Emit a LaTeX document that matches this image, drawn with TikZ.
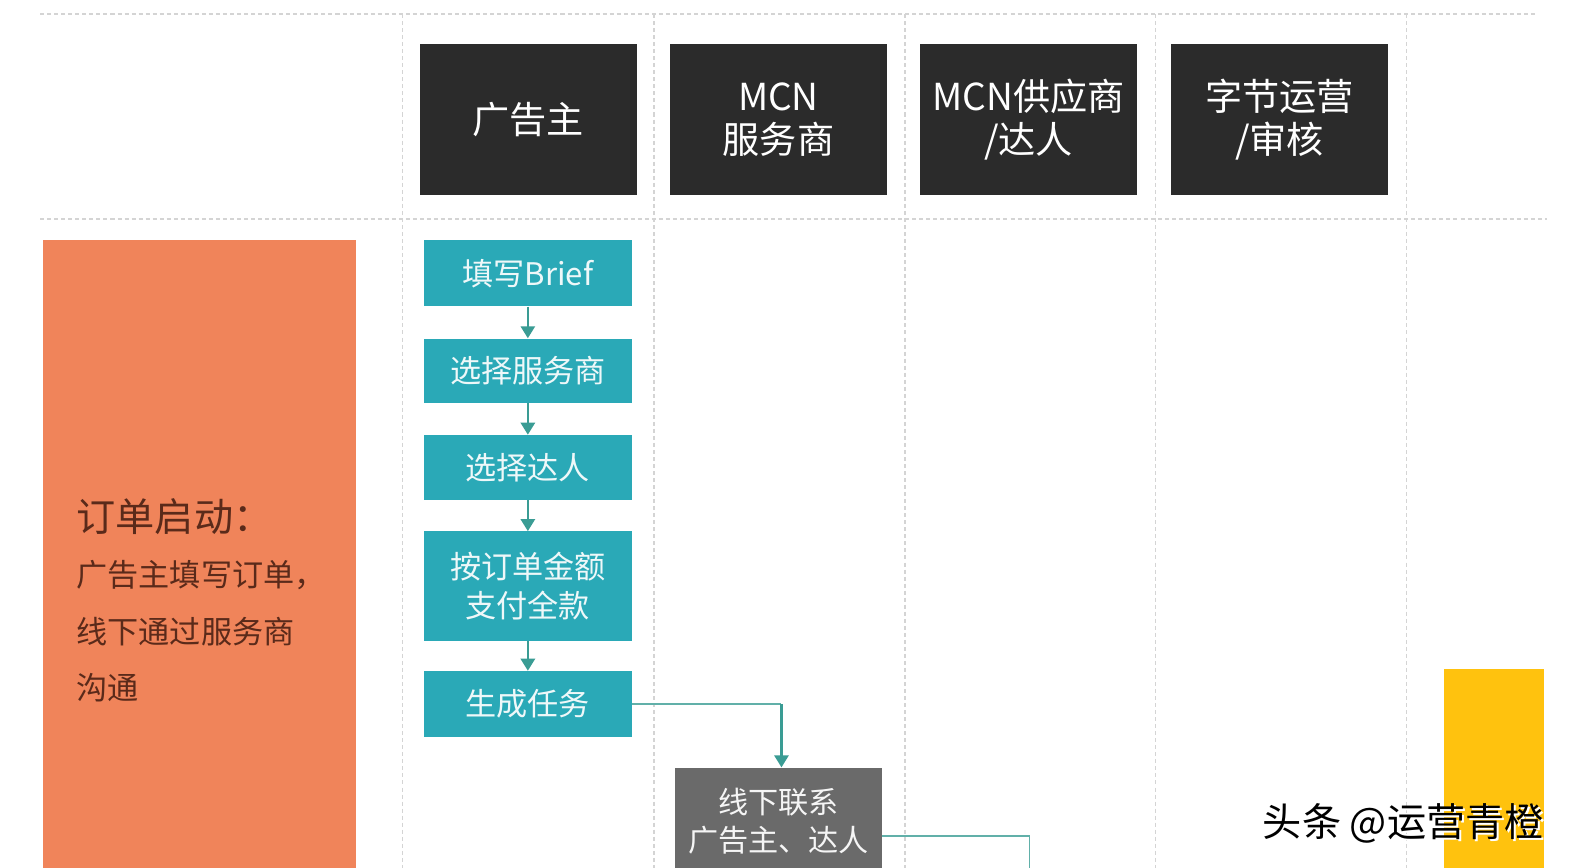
\documentclass[tikz,border=0pt]{standalone}
\usepackage{fontspec}
\setmainfont{Noto Sans CJK SC}
\usetikzlibrary{arrows.meta}
\definecolor{hdr}{HTML}{2B2B2B}
\definecolor{teal}{HTML}{2AA9B7}
\definecolor{tealdk}{HTML}{3A9C94}
\definecolor{orng}{HTML}{F0845A}
\definecolor{orngtxt}{HTML}{5A2A1A}
\definecolor{gryb}{HTML}{6A6A6A}
\definecolor{ylw}{HTML}{FFC20E}
\definecolor{grid}{HTML}{D4D4D4}
\tikzset{
  gridline/.style={grid, line width=1.2pt, dash pattern=on 4pt off 3pt},
  hdrbox/.style={fill=hdr, draw=none, minimum width=216pt, minimum height=150pt, text=white, font=\fontsize{37}{43}\selectfont, align=center, inner sep=0pt},
  stepbox/.style={fill=teal, draw=none, minimum width=207pt, text=white!92!teal, font=\fontsize{31}{38}\selectfont, align=center, inner sep=0pt},
  phaseline/.style={anchor=west, text=orngtxt, inner sep=0pt, font=\fontsize{31}{36}\selectfont},
  flow/.style={tealdk, line width=2.6pt, -{Triangle[length=12pt,width=14pt]}},
  flowline/.style={tealdk!80!white, line width=1.6pt},
}
\begin{document}
\begin{tikzpicture}[x=1pt,y=-1pt]
\useasboundingbox (0,0) rectangle (1568,864);
\clip (0,0) rectangle (1568,864);
\fill[white] (0,0) rectangle (1568,864);
% grid
\draw[gridline] (40,14) -- (1530,14);
\draw[gridline] (40,218) -- (1540,218);
\foreach \x in {401,651,901,1150,1400} \draw[gridline] (\x,14) -- (\x,864);
% headers
\node[hdrbox] (h1) at (526,119) {广告主};
\node[hdrbox] (h2) at (775,119) {MCN\\服务商};
\node[hdrbox] (h3) at (1024,119) {MCN供应商\\/达人};
\node[hdrbox] (h4) at (1274,119) {字节运营\\/审核};
% orange phase box
\node[fill=orng, draw=none, minimum width=311pt, minimum height=700pt, anchor=north west, inner sep=0pt] (phase) at (43,239) {};
\node[phaseline, font=\fontsize{39}{44}\selectfont] (pt0) at (76,514) {订单启动：};
\node[phaseline] (pt1) at (76,573) {广告主填写订单，};
\node[phaseline] (pt2) at (76,629) {线下通过服务商};
\node[phaseline] (pt3) at (76,685) {沟通};
% steps
\node[stepbox, minimum height=66pt] (s1) at (525.5,272) {填写Brief};
\node[stepbox, minimum height=64pt] (s2) at (525.5,369) {选择服务商};
\node[stepbox, minimum height=65pt] (s3) at (525.5,465.5) {选择达人};
\node[stepbox, minimum height=109pt] (s4) at (525.5,583.5) {按订单金额\\支付全款};
\node[stepbox, minimum height=66pt] (s5) at (525.5,701) {生成任务};
\draw[flow] (s1) -- (s2);
\draw[flow] (s2) -- (s3);
\draw[flow] (s3) -- (s4);
\draw[flow] (s4) -- (s5);
% gray box
\node[fill=gryb, draw=none, minimum width=206pt, minimum height=200pt, anchor=north, inner sep=0pt] (g1) at (775,764) {};
\node[anchor=north, align=center, text=white!92!gray, font=\fontsize{30}{38}\selectfont, inner sep=0pt] (g1txt) at (775,784) {线下联系\\广告主、达人};
\coordinate (c1) at (778,701);
\draw[flowline] (s5.east) -- (c1);
\draw[flow] (c1) -- (778,764);
\coordinate (c2) at (1025,832);
\coordinate (c3) at (1025,864);
\draw[flowline] (878,832) -- (c2) -- (c3);
% yellow box
\node[fill=ylw, draw=none, minimum width=100pt, minimum height=300pt, anchor=north west, inner sep=0pt] (y1) at (1437,666) {};
% watermark
\node[anchor=west, text=white, font=\fontsize{39}{44}\selectfont, inner sep=0pt] (wm2) at (1259,822) {头条 @运营青橙};
\node[anchor=west, text=black, font=\fontsize{39}{44}\selectfont, inner sep=0pt] (wm) at (1257,820) {头条 @运营青橙};
\end{tikzpicture}
\end{document}
